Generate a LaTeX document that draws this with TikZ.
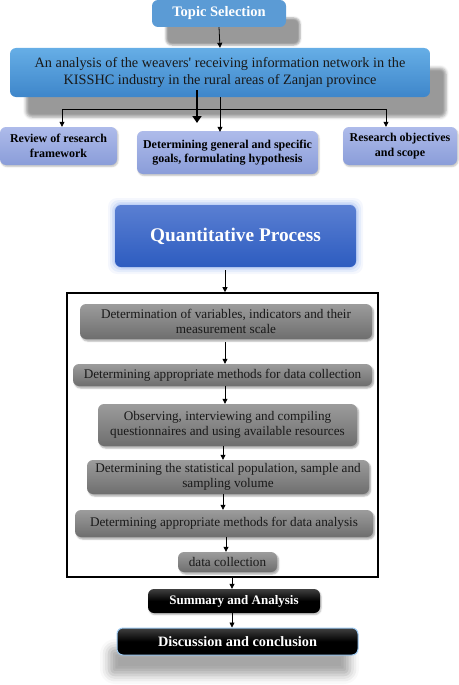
\documentclass[tikz,border=0pt]{standalone}
\usepackage{fontspec}
\setmainfont{Liberation Serif}
\usetikzlibrary{shadows.blur,arrows.meta,calc}
\definecolor{topblue}{HTML}{5B9BD5}
\definecolor{bigtop}{HTML}{66AEE6}
\definecolor{bigbot}{HTML}{3E86CA}
\definecolor{lavtop}{HTML}{AEBBEA}
\definecolor{lavbot}{HTML}{8A9DD9}
\definecolor{qtop}{HTML}{5A7FD2}
\definecolor{qbot}{HTML}{2D5CC0}
\definecolor{qglow}{HTML}{A9C1F2}
\definecolor{gtop}{HTML}{9C9C9C}
\definecolor{gbot}{HTML}{6E6E6E}
\definecolor{dglow}{HTML}{9CC8F0}
\begin{document}
\begin{tikzpicture}[x=1pt,y=1pt,
  arr/.style={-{Triangle[length=5pt,width=5pt]}, line width=0.8pt},
  rbox/.style={rounded corners=6pt, inner sep=0pt, align=center},
  bluebox/.style={rbox, font=\bfseries\fontsize{14.5}{17}\selectfont, text=white},
  lavbox/.style={rbox, top color=lavtop, bottom color=lavbot, font=\bfseries\fontsize{12}{14.5}\selectfont,
     blur shadow={shadow xshift=1pt, shadow yshift=-1.5pt, shadow opacity=25, shadow blur radius=1.5pt}},
  graybox/.style={rbox, top color=gtop, bottom color=gbot, text=black!90, font=\fontsize{13.2}{15.5}\selectfont,
     blur shadow={shadow xshift=1.5pt, shadow yshift=-2pt, shadow opacity=35, shadow blur radius=1.5pt}},
  blackbox/.style={rbox, top color=black!75, bottom color=black, middle color=black, text=white, font=\bfseries\fontsize{13}{15}\selectfont}
]
\useasboundingbox (0,0) rectangle (458,-685);

% Topic selection
\node[bluebox, fill=topblue, minimum width=134, minimum height=27,
  blur shadow={shadow xshift=14pt, shadow yshift=-18pt, shadow opacity=40, shadow blur radius=2pt}]
  (topic) at (219,-13.5) {Topic Selection};

% Big analysis box
\node[rbox, top color=bigtop, bottom color=bigbot, minimum width=420, minimum height=49,
  font=\fontsize{14.3}{17}\selectfont, text=black!90,
  blur shadow={shadow xshift=16pt, shadow yshift=-20pt, shadow opacity=40, shadow blur radius=3pt}]
  (big) at (220,-72.5) {An analysis of the weavers\textquotesingle{} receiving information network in the\\KISSHC industry in the rural areas of Zanjan province};

% three boxes
\node[lavbox, minimum width=117, minimum height=38] (rev) at (58.5,-146) {Review of research\\framework};
\node[lavbox, minimum width=181, minimum height=43] (mid) at (227.5,-152.5) {Determining general and specific\\goals, formulating hypothesis};
\node[lavbox, minimum width=114, minimum height=38] (obj) at (400,-146) {Research objectives\\and scope};

\draw[arr] (topic.south) -- (big.north);
\coordinate (hl) at (62,-109);
\coordinate (hr) at (386,-109);
\draw[line width=0.8pt] (hl) -- (hr);
\draw[arr] (hl) -- (hl |- rev.north);
\draw[arr] (hr) -- (hr |- obj.north);
\draw[arr] (big.south) -- ($(big.south |- mid.north)+(0,-1)$);
\coordinate (tk1) at (197,-90);
\coordinate (tk2) at (197,-123);
\draw[line width=2.6pt, -{Triangle[length=7pt,width=9pt]}] (tk1) -- (tk2);

% Quantitative process glow
\foreach \g/\o in {7/0.12,5/0.2,3/0.3,1.5/0.45}{
  \fill[qglow, opacity=\o, rounded corners=9pt] (115-\g,-205+\g) rectangle (356+\g,-267-\g);
}
\node[bluebox, top color=qtop, bottom color=qbot, minimum width=241, minimum height=62,
  font=\bfseries\fontsize{19.3}{22}\selectfont] (quant) at (235.5,-236) {Quantitative Process};

% frame
\node[draw, line width=1.6pt, minimum width=311, minimum height=284, inner sep=0pt] (frame) at (222.5,-435) {};
\coordinate (qa) at (225,0);
\draw[arr] ($(quant.south -| qa)+(0,-3)$) -- (frame.north -| qa);

% gray boxes
\node[graybox, minimum width=292, minimum height=35] (b1) at (226,-321.5) {Determination of variables, indicators and their\\measurement scale};
\node[graybox, minimum width=299, minimum height=22] (b2) at (222.5,-375) {Determining appropriate methods for data collection};
\node[graybox, minimum width=259, minimum height=42] (b3) at (227.5,-425) {Observing, interviewing and compiling\\questionnaires and using available resources};
\node[graybox, minimum width=282, minimum height=34] (b4) at (228,-477) {Determining the statistical population, sample and\\sampling volume};
\node[graybox, minimum width=298, minimum height=27] (b5) at (224,-523.5) {Determining appropriate methods for data analysis};
\node[graybox, minimum width=99, minimum height=20] (b6) at (227.5,-562) {data collection};

\coordinate (ax) at (225,0);
\draw[arr] ($(b1.south -| ax)+(0,-3)$) -- (b2.north -| ax);
\draw[arr] (b2.south -| ax) -- (b3.north -| ax);
\coordinate (ay) at (223,0);
\draw[arr] (b3.south -| ay) -- (b4.north -| ay);
\draw[arr] (b4.south -| ay) -- (b5.north -| ay);
\coordinate (az) at (226,0);
\draw[arr] (b5.south -| az) -- (b6.north -| az);

% final boxes
\node[blackbox, minimum width=241, minimum height=27, draw=dglow, line width=1pt,
  font=\bfseries\fontsize{14.3}{16}\selectfont,
  blur shadow={shadow xshift=-8pt, shadow yshift=-20pt, shadow opacity=35, shadow blur radius=9pt}]
  (disc) at (237.5,-641.5) {Discussion and conclusion};
\node[blackbox, minimum width=172, minimum height=24,
  blur shadow={shadow xshift=1pt, shadow yshift=-1.5pt, shadow opacity=30, shadow blur radius=1.5pt}]
  (sum) at (234,-601) {Summary and Analysis};
\coordinate (bx) at (232,0);
\draw[arr] (frame.south -| bx) -- (sum.north -| bx);
\draw[arr] (sum.south -| bx) -- (disc.north -| bx);
\end{tikzpicture}
\end{document}
